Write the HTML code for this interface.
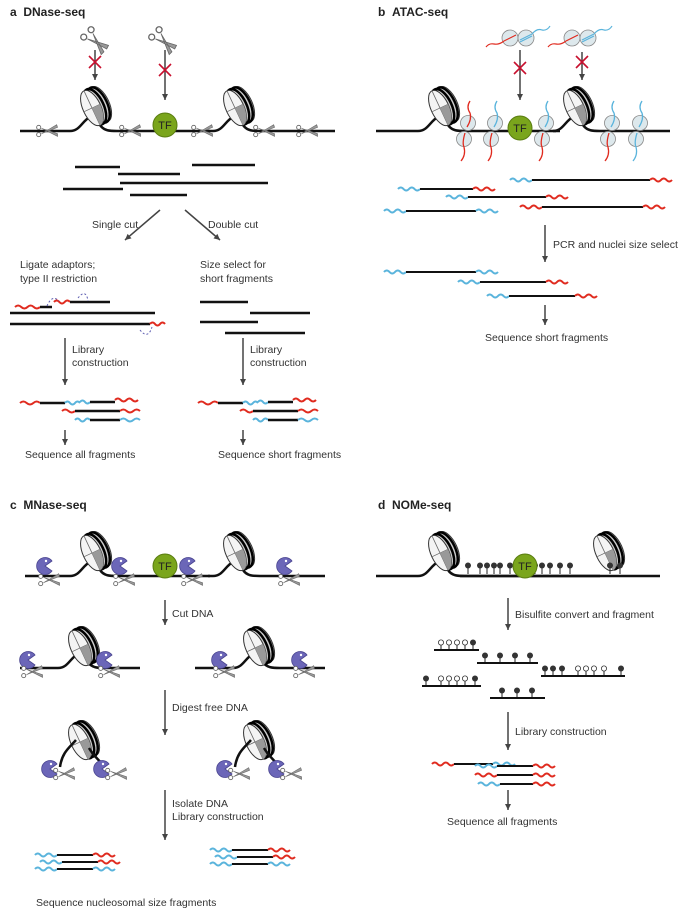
<!DOCTYPE html>
<html><head><meta charset="utf-8"><style>
body{margin:0;background:#fff}
svg{display:block}
text{font-family:"Liberation Sans",sans-serif;font-size:10.5px;fill:#333}
.t{font-weight:bold;font-size:12px;fill:#222}
</style></head><body>
<svg id="s" width="685" height="911" viewBox="0 0 685 911" xmlns="http://www.w3.org/2000/svg">
<text class="t" x="10" y="16">a&#160;&#160;DNase-seq</text>
<text class="t" x="378" y="16">b&#160;&#160;ATAC-seq</text>
<text class="t" x="10" y="509">c&#160;&#160;MNase-seq</text>
<text class="t" x="378" y="509">d&#160;&#160;NOMe-seq</text>

<text x="92" y="228">Single cut</text>
<text x="208" y="228">Double cut</text>
<text x="20" y="268">Ligate adaptors;</text>
<text x="20" y="282">type II restriction</text>
<text x="200" y="268">Size select for</text>
<text x="200" y="282">short fragments</text>
<text x="72" y="353">Library</text><text x="72" y="366">construction</text>
<text x="250" y="353">Library</text><text x="250" y="366">construction</text>
<text x="25" y="458">Sequence all fragments</text>
<text x="218" y="458">Sequence short fragments</text>
<text x="553" y="248">PCR and nuclei size select</text>
<text x="485" y="341">Sequence short fragments</text>
<text x="172" y="617">Cut DNA</text>
<text x="172" y="711">Digest free DNA</text>
<text x="172" y="807">Isolate DNA</text>
<text x="172" y="820">Library construction</text>
<text x="36" y="906">Sequence nucleosomal size fragments</text>
<text x="515" y="618">Bisulfite convert and fragment</text>
<text x="515" y="735">Library construction</text>
<text x="447" y="825">Sequence all fragments</text>
<g id="g"></g>
</svg>
<script>
var g=document.getElementById('g'),NS='http://www.w3.org/2000/svg';
function el(t,a){var e=document.createElementNS(NS,t);for(var k in a)e.setAttribute(k,a[k]);g.appendChild(e);return e;}
function line(x1,y1,x2,y2,c,w){el('line',{x1:x1,y1:y1,x2:x2,y2:y2,stroke:c||'#111','stroke-width':w||2.5});}
function arrow(x1,y1,x2,y2){line(x1,y1,x2,y2,'#444',1.5);var a=Math.atan2(y2-y1,x2-x1),s=6;
 el('path',{d:'M'+x2+','+y2+' L'+(x2-s*Math.cos(a)+3*Math.sin(a))+','+(y2-s*Math.sin(a)-3*Math.cos(a))+' L'+(x2-s*Math.cos(a)-3*Math.sin(a))+','+(y2-s*Math.sin(a)+3*Math.cos(a))+'Z',fill:'#444'});}
function X(x,y){line(x-6,y-6,x+6,y+6,'#c8102e',1.6);line(x-6,y+6,x+6,y-6,'#c8102e',1.6);}
function wavy(x1,x2,y,c){var d='M'+x1+','+y,n=Math.round((x2-x1)/6),st=(x2-x1)/n;for(var i=0;i<n;i++){d+=' q'+(st/2)+','+(i%2?3:-3)+' '+st+',0';}el('path',{d:d,fill:'none',stroke:c,'stroke-width':2});}
var R='#e02b1f',B='#5ab4dc';
function grp(tr){var q=el('g',{transform:tr});var old=g;g=q;return old;}
function nuc(x,y){var old=grp('translate('+x+','+y+') rotate(-25)');
 el('ellipse',{cx:9,cy:0,rx:9,ry:19,fill:'#ccc',stroke:'#333','stroke-width':1});
 el('rect',{x:0,y:-19,width:9,height:38,fill:'#e0e0e0'});
 el('ellipse',{cx:3,cy:0,rx:9,ry:19,fill:'none',stroke:'#000','stroke-width':2.5});
 el('ellipse',{cx:7,cy:0,rx:9,ry:19,fill:'none',stroke:'#000','stroke-width':2.5});
 el('ellipse',{cx:0,cy:0,rx:9,ry:19,fill:'#f4f4f4',stroke:'#333','stroke-width':1});
 el('path',{d:'M0,-19 L0,19 M-9,0 L9,0',stroke:'#666','stroke-width':0.8});
 el('path',{d:'M0,0 L9,0 A9,19 0 0 1 0,19Z',fill:'#999'});
 g=old;}
function tf(x,y){el('circle',{cx:x,cy:y,r:12,fill:'#7aa51c',stroke:'#5a7d10','stroke-width':1});var t=el('text',{x:x,y:y+4,'text-anchor':'middle',style:'font-size:11px;fill:#222'});t.textContent='TF';}
function sc(x,y,sz){var old=grp('translate('+x+','+y+') scale('+(sz||1)+')');
 el('path',{d:'M-4,-3 L14,6 L14,3 Z M-4,3 L14,-4 L13,-7 Z',fill:'#999',stroke:'#666','stroke-width':0.6});
 el('circle',{cx:-7,cy:-4,r:2.3,fill:'#fff',stroke:'#666','stroke-width':1});
 el('circle',{cx:-7,cy:4,r:2.3,fill:'#fff',stroke:'#666','stroke-width':1});g=old;}
function bigsc(x,y){var old=grp('translate('+x+','+y+') rotate(45) scale(1.3)');
 el('path',{d:'M-2,-3 L14,4 L14,1 Z M-2,3 L14,-2 L13,-5 Z',fill:'#999',stroke:'#666','stroke-width':0.6});
 el('circle',{cx:-5,cy:-4,r:2.3,fill:'#fff',stroke:'#666','stroke-width':1});
 el('circle',{cx:-5,cy:4,r:2.3,fill:'#fff',stroke:'#666','stroke-width':1});g=old;}
function pac(x,y){el('path',{d:'M'+x+','+y+' L'+(x+7)+','+(y-5)+' A8.5,8.5 0 1 0 '+(x+7)+','+(y+5)+' Z',fill:'#6b66b8',stroke:'#4a4590','stroke-width':0.8});el('circle',{cx:x+1,cy:y-5,r:1.2,fill:'#fff'});}
function dnaHump(x1,nx,y,x2){el('path',{d:'M'+x1+','+y+' L'+(nx-22)+','+y+' C'+(nx-12)+','+y+' '+(nx-10)+','+(y-10)+' '+(nx-2)+','+(y-14)+' M'+(nx+8)+','+(y-6)+' C'+(nx+12)+','+y+' '+(nx+18)+','+y+' '+(nx+25)+','+y+' L'+x2+','+y,fill:'none',stroke:'#111','stroke-width':2.5});}
function tn5(x,y){
 el('circle',{cx:x-8,cy:y,r:8,fill:'#dde8ec',stroke:'#888','stroke-width':0.8});el('circle',{cx:x+8,cy:y,r:8,fill:'#dde8ec',stroke:'#888','stroke-width':0.8});
 line(x-14,y+3,x-2,y-3,R,1.2);line(x+2,y+2,x+14,y-4,B,1.2);line(x+2,y+4,x+14,y-2,B,1.2);
 el('path',{d:'M'+(x-14)+','+(y+3)+' q-5,4 -10,3 q-5,-1 -8,3',fill:'none',stroke:R,'stroke-width':1.2});
 el('path',{d:'M'+(x+14)+','+(y-4)+' q5,-6 10,-4 q5,1 8,-4',fill:'none',stroke:B,'stroke-width':1.2});}
function tnd(x,y,c1,c2){el('circle',{cx:x,cy:y-8,r:7.5,fill:'#dde8ec',stroke:'#888','stroke-width':0.8});el('circle',{cx:x-4,cy:y+8,r:7.5,fill:'#dde8ec',stroke:'#888','stroke-width':0.8});
 el('path',{d:'M'+(x+2)+','+(y-30)+' q-4,6 0,12 q2,6 -3,14',fill:'none',stroke:c1,'stroke-width':1.3});
 el('path',{d:'M'+(x-3)+','+(y+2)+' q-3,10 -1,14 q2,8 -3,14',fill:'none',stroke:c2,'stroke-width':1.3});}
function lol(x,y,filled,h){h=h||7;line(x,y,x,y-h,'#222',1);el('circle',{cx:x,cy:y-h-2.5,r:2.6,fill:filled?'#333':'#fff',stroke:'#333','stroke-width':0.8});}

/* a */
bigsc(92,38);bigsc(160,38);
arrow(95,50,95,80);X(95,62);arrow(165,50,165,100);X(165,70);
dnaHump(20,92,131,210);dnaHump(208,235,131,335);
nuc(92,108);nuc(235,108);tf(165,125);
[45,128,200,262,305].forEach(function(x){sc(x,131,0.9);});
[[75,120,167],[118,180,174],[120,268,183],[63,123,189],[130,187,195],[192,255,165]].forEach(function(a){line(a[0],a[2],a[1],a[2]);});
arrow(160,210,125,240);arrow(185,210,220,240);
wavy(15,40,307,R);line(40,307,52,307);wavy(54,70,302,R);line(70,302,110,302);line(10,313,155,313);line(10,324,150,324);wavy(150,165,324,R);
el('path',{d:'M47,306 q5,-12 12,-5',fill:'none',stroke:'#5b5bb0','stroke-width':1,'stroke-dasharray':'2,2'});
el('path',{d:'M78,298 q8,-10 10,3',fill:'none',stroke:'#5b5bb0','stroke-width':1,'stroke-dasharray':'2,2'});
el('path',{d:'M140,330 q8,10 12,-3',fill:'none',stroke:'#5b5bb0','stroke-width':1,'stroke-dasharray':'2,2'});
line(200,302,248,302);line(250,313,310,313);line(200,322,258,322);line(225,333,305,333);
arrow(65,338,65,385);arrow(243,338,243,385);
function frags(ox){wavy(ox+0,ox+20,403,R);line(ox+20,403,ox+45,403);wavy(ox+45,ox+60,403,B);
 wavy(ox+60,ox+70,402,B);line(ox+70,402,ox+95,402);wavy(ox+95,ox+118,400,R);
 wavy(ox+42,ox+55,411,R);line(ox+55,411,ox+100,411);wavy(ox+100,ox+120,411,R);
 wavy(ox+55,ox+70,420,B);line(ox+70,420,ox+100,420);wavy(ox+100,ox+120,420,B);}
frags(20);frags(198);
arrow(65,430,65,445);arrow(243,430,243,445);

/* b */
tn5(518,38);tn5(580,38);
arrow(520,50,520,100);X(520,68);arrow(582,52,582,80);X(582,62);
dnaHump(376,440,131,560);dnaHump(556,575,131,670);
nuc(440,108);nuc(575,108);
tnd(468,131,R,R);tnd(495,131,B,R);tnd(546,131,B,R);tnd(612,131,B,R);tnd(640,131,B,B);
tf(520,128);
function fr(x1,x2,y,c1,c2){wavy(x1,x1+22,y,c1);line(x1+22,y,x2-22,y,'#111',2);wavy(x2-22,x2,y,c2);}
fr(510,672,180,B,R);fr(398,495,189,B,R);fr(446,568,197,B,R);fr(520,665,207,R,R);fr(384,498,211,B,B);
arrow(545,225,545,262);
fr(384,498,272,B,B);fr(458,568,282,B,R);fr(487,597,296,B,R);
arrow(545,305,545,325);

/* c */
dnaHump(25,92,576,210);dnaHump(208,235,576,325);
nuc(92,553);nuc(235,553);tf(165,566);
[[45,570],[120,570],[188,570],[285,570]].forEach(function(p){sc(p[0]+2,580,0.9);pac(p[0],p[1]-4);});
arrow(165,600,165,625);
dnaHump(20,80,668,140);dnaHump(195,255,668,325);nuc(80,648);nuc(255,648);
pac(28,660);sc(30,672,0.9);pac(105,660);sc(107,672,0.9);pac(220,660);sc(222,672,0.9);pac(300,660);sc(302,672,0.9);
arrow(165,690,165,735);
function frag3(x,y){nuc(x,y);el('path',{d:'M'+(x-20)+','+(y+25)+' C'+(x-18)+','+(y+10)+' '+(x-10)+','+(y+5)+' '+(x-4)+','+(y-2)+' M'+(x+9)+','+(y+6)+' C'+(x+14)+','+(y+15)+' '+(x+20)+','+(y+18)+' '+(x+24)+','+(y+25),fill:'none',stroke:'#111','stroke-width':2.5});
 pac(x-30,y+27);sc(x-18,y+32,0.9);pac(x+22,y+27);sc(x+34,y+32,0.9);}
frag3(80,742);frag3(255,742);
arrow(165,790,165,840);
function nf(x,y){fr(x,x+80,y,B,R);fr(x+5,x+85,y+7,B,R);fr(x,x+80,y+14,B,B);}
nf(35,855);nf(210,850);

/* d */
dnaHump(376,440,576,660);
el('path',{d:'M460,576 L600,576',stroke:'#111','stroke-width':2.5});
nuc(440,553);nuc(605,553);
[468,480,487,494,500,510,535,542,550,560,570,610,620].forEach(function(x){lol(x,574,true,6);});
tf(525,566);
arrow(508,598,508,630);
line(434,650,479,650,'#111',2);[441,449,457,465].forEach(function(x){lol(x,649,false,4);});lol(473,649,true,4);
line(477,663,538,663,'#111',2);[485,500,515,530].forEach(function(x){lol(x,662,true,4);});
line(541,676,625,676,'#111',2);[545,553,562].forEach(function(x){lol(x,675,true,4);});[578,586,594,604].forEach(function(x){lol(x,675,false,4);});lol(621,675,true,4);
line(422,686,481,686,'#111',2);lol(426,685,true,4);[441,449,457,465].forEach(function(x){lol(x,685,false,4);});lol(475,685,true,4);
line(490,698,545,698,'#111',2);[502,517,532].forEach(function(x){lol(x,697,true,4);});
arrow(508,712,508,750);
fr(432,515,764,R,B);fr(475,555,766,B,R);fr(475,555,775,R,R);fr(478,555,784,B,R);
arrow(508,790,508,810);
</script>
</body></html>
